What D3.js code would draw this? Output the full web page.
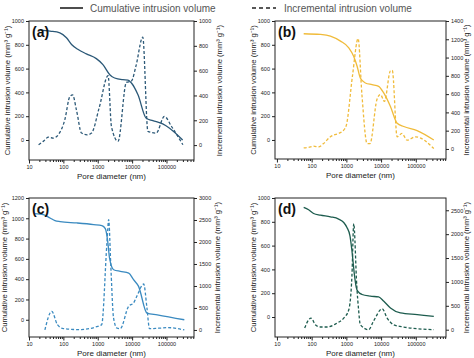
<!DOCTYPE html>
<html><head><meta charset="utf-8">
<script src="https://cdn.jsdelivr.net/npm/d3@7"></script>
<style>body{margin:0;background:#fff}svg{display:block}</style>
</head><body>
<script>
// ---- data (pore diameter nm, value) ----
const cumA = [[21,924],[41,915],[79,901],[123,859],[173,803],[270,760],[467,724],[910,684],[1414,634],[2240,549],[3100,521],[5380,507],[7560,504],[9550,479],[14800,380],[25700,183],[40000,163],[77600,135],[123000,99],[295000,0]];
const incA = [[19,3],[26,30],[37,64],[50,56],[71,83],[110,204],[154,391],[185,405],[240,284],[337,97],[490,83],[660,97],[1100,300],[2000,559],[2500,150],[3900,30],[6800,505],[9500,515],[13000,640],[20400,870],[28800,110],[50000,97],[87000,231],[140000,150],[300000,3]];
const cumB = [[59,893],[178,887],[347,873],[676,831],[1175,775],[1620,704],[2040,620],[2520,521],[3530,479],[5500,465],[8500,451],[12000,394],[18600,282],[29000,141],[45000,113],[109000,79],[330000,0]];
const incB = [[59,11],[82,18],[114,30],[158,22],[220,59],[347,133],[430,152],[600,170],[840,207],[1000,260],[1500,800],[2180,1207],[2800,600],[3960,59],[4800,59],[7600,541],[9600,596],[12500,520],[18600,855],[21000,860],[29000,133],[40000,170],[56000,96],[98000,133],[330000,4]];
const cumC = [[15,1046],[26,1036],[41,1003],[57,977],[80,967],[245,954],[760,938],[1320,928],[1660,898],[1950,773],[2200,609],[2900,493],[4540,477],[7960,460],[11000,395],[15400,329],[27000,66],[54000,49],[330000,0]];
const incC = [[29,0],[46,424],[67,121],[100,30],[300,8],[1000,83],[1300,121],[1850,1977],[2080,2508],[2400,1447],[2880,273],[3600,45],[4500,30],[7900,538],[11000,614],[13700,765],[21700,1045],[27000,500],[32000,30],[60000,40],[110000,53],[330000,0]];
const cumD = [[59,921],[82,901],[114,870],[178,856],[347,842],[600,823],[840,794],[1040,752],[1270,682],[1450,555],[1700,358],[1940,245],[2120,217],[2820,189],[4900,175],[8500,169],[12000,132],[18600,76],[36000,34],[110000,20],[330000,6]];
const incD = [[63,35],[82,208],[96,243],[128,104],[178,56],[280,56],[540,139],[840,243],[1175,417],[1450,1146],[1630,2222],[2000,903],[2250,417],[2520,104],[4400,0],[6000,174],[10800,437],[15000,243],[23000,104],[45000,56],[330000,0]];

const xTicks = [10,100,1000,10000,100000];
const xTickLabels = ["10","100","1000","10000","100000"];
const leftTicksA = [0,200,400,600,800,1000];
const rightTicksA = [0,200,400,600,800,1000];
const leftTicksB = [0,200,400,600,800,1000];
const rightTicksB = [0,200,400,600,800,1000,1200,1400];
const leftTicksC = [0,200,400,600,800,1000,1200];
const rightTicksC = [0,500,1000,1500,2000,2500,3000];
const leftTicksD = [0,200,400,600,800,1000];
const rightTicksD = [0,500,1000,1500,2000,2500];

const panels = [
  {label:"(a)", cum:cumA, inc:incA, color:"#2b5877", box:[29,194,21,160], xd:[10,631000], ly:[-168,1000], ry:[-120,1000], lt:leftTicksA, rt:rightTicksA, ll:10, rl:222},
  {label:"(b)", cum:cumB, inc:incB, color:"#f0bb3a", box:[275,446,21,159], xd:[8.8,741000], ly:[-160,1000], ry:[-110,1400], lt:leftTicksB, rt:rightTicksB, ll:256, rl:469},
  {label:"(c)", cum:cumC, inc:incC, color:"#3a8ac0", box:[29,194,198,337], xd:[10,631000], ly:[-170,1200], ry:[-160,3000], lt:leftTicksC, rt:rightTicksC, ll:7, rl:220},
  {label:"(d)", cum:cumD, inc:incD, color:"#1d5c4e", box:[275,446,198,337], xd:[8.8,741000], ly:[-168,1000], ry:[-153,2757], lt:leftTicksD, rt:rightTicksD, ll:256, rl:469}
];

const svg = d3.select("body").append("svg").attr("width",474).attr("height",358);
const font = "Arial, 'Liberation Sans', sans-serif";

// legend
const lg = svg.append("g");
lg.append("line").attr("x1",60).attr("x2",83).attr("y1",8).attr("y2",8).attr("stroke","#222").attr("stroke-width",1.6);
lg.append("text").attr("x",90).attr("y",11.5).text("Cumulative intrusion volume").attr("font-family",font).attr("font-size",10).attr("fill","#555");
lg.append("line").attr("x1",252).attr("x2",276).attr("y1",8).attr("y2",8).attr("stroke","#222").attr("stroke-width",1.6).attr("stroke-dasharray","4,3");
lg.append("text").attr("x",284).attr("y",11.5).text("Incremental intrusion volume").attr("font-family",font).attr("font-size",10).attr("fill","#555");

panels.forEach(p => {
  const [L,R,T,B] = p.box;
  const x = d3.scaleLog().domain(p.xd).range([L,R]);
  const yl = d3.scaleLinear().domain(p.ly).range([B,T]);
  const yr = d3.scaleLinear().domain(p.ry).range([B,T]);
  const g = svg.append("g");

  // frame
  g.append("rect").attr("x",L).attr("y",T).attr("width",R-L).attr("height",B-T).attr("fill","none").attr("stroke","#222").attr("stroke-width",1);

  // minor x ticks
  const minors = [];
  for (let e=1;e<=5;e++) for (let k=2;k<=9;k++){ const v=k*Math.pow(10,e); if (v>=p.xd[0] && v<=p.xd[1]) minors.push(v); }
  const xa = g.append("g").attr("transform",`translate(0,${B})`)
    .call(d3.axisBottom(x).tickValues(minors).tickSize(2).tickFormat(""));
  xa.select(".domain").remove();
  xa.selectAll("line").attr("stroke","#222");
  const xb = g.append("g").attr("transform",`translate(0,${B})`)
    .call(d3.axisBottom(x).tickValues(xTicks).tickSize(3.5).tickPadding(2).tickFormat((d,i)=>xTickLabels[i]));
  xb.select(".domain").remove();
  xb.selectAll("line").attr("stroke","#222");
  xb.selectAll("text").attr("font-size",5.5).attr("font-family",font).attr("fill","#222");

  const la = g.append("g").attr("transform",`translate(${L},0)`)
    .call(d3.axisLeft(yl).tickValues(p.lt).tickSize(3).tickPadding(2).tickFormat(d3.format("d")));
  la.select(".domain").remove();
  la.selectAll("line").attr("stroke","#222");
  la.selectAll("text").attr("font-size",5.5).attr("font-family",font).attr("fill","#222");

  const ra = g.append("g").attr("transform",`translate(${R},0)`)
    .call(d3.axisRight(yr).tickValues(p.rt).tickSize(3).tickPadding(2).tickFormat(d3.format("d")));
  ra.select(".domain").remove();
  ra.selectAll("line").attr("stroke","#222");
  ra.selectAll("text").attr("font-size",5.5).attr("font-family",font).attr("fill","#222");

  // axis titles
  g.append("text").attr("transform",`translate(${p.ll},${(T+B)/2}) rotate(-90)`).attr("text-anchor","middle")
    .attr("font-family",font).attr("font-size",7.6).attr("fill","#222").text("Cumulative intrusion volume (mm³ g⁻¹)");
  g.append("text").attr("transform",`translate(${p.rl},${(T+B)/2}) rotate(-90)`).attr("text-anchor","middle")
    .attr("font-family",font).attr("font-size",7.6).attr("fill","#222").text("Incremental intrusion volume (mm³ g⁻¹)");
  g.append("text").attr("x",(L+R)/2).attr("y",B+19).attr("text-anchor","middle")
    .attr("font-family",font).attr("font-size",8).attr("fill","#222").text("Pore diameter (nm)");

  // lines
  const lc = d3.line().x(d=>x(d[0])).y(d=>yl(d[1])).curve(d3.curveMonotoneX);
  const li = d3.line().x(d=>x(d[0])).y(d=>yr(d[1])).curve(d3.curveMonotoneX);
  g.append("path").attr("d",li(p.inc)).attr("fill","none").attr("stroke",p.color).attr("stroke-width",1.3).attr("stroke-dasharray","3,2");
  g.append("path").attr("d",lc(p.cum)).attr("fill","none").attr("stroke",p.color).attr("stroke-width",1.3);

  // panel label
  g.append("text").attr("x",L+3).attr("y",T+16).attr("font-family",font).attr("font-weight","bold").attr("font-size",14).attr("fill","#111").text(p.label);
});
</script>
</body></html>
